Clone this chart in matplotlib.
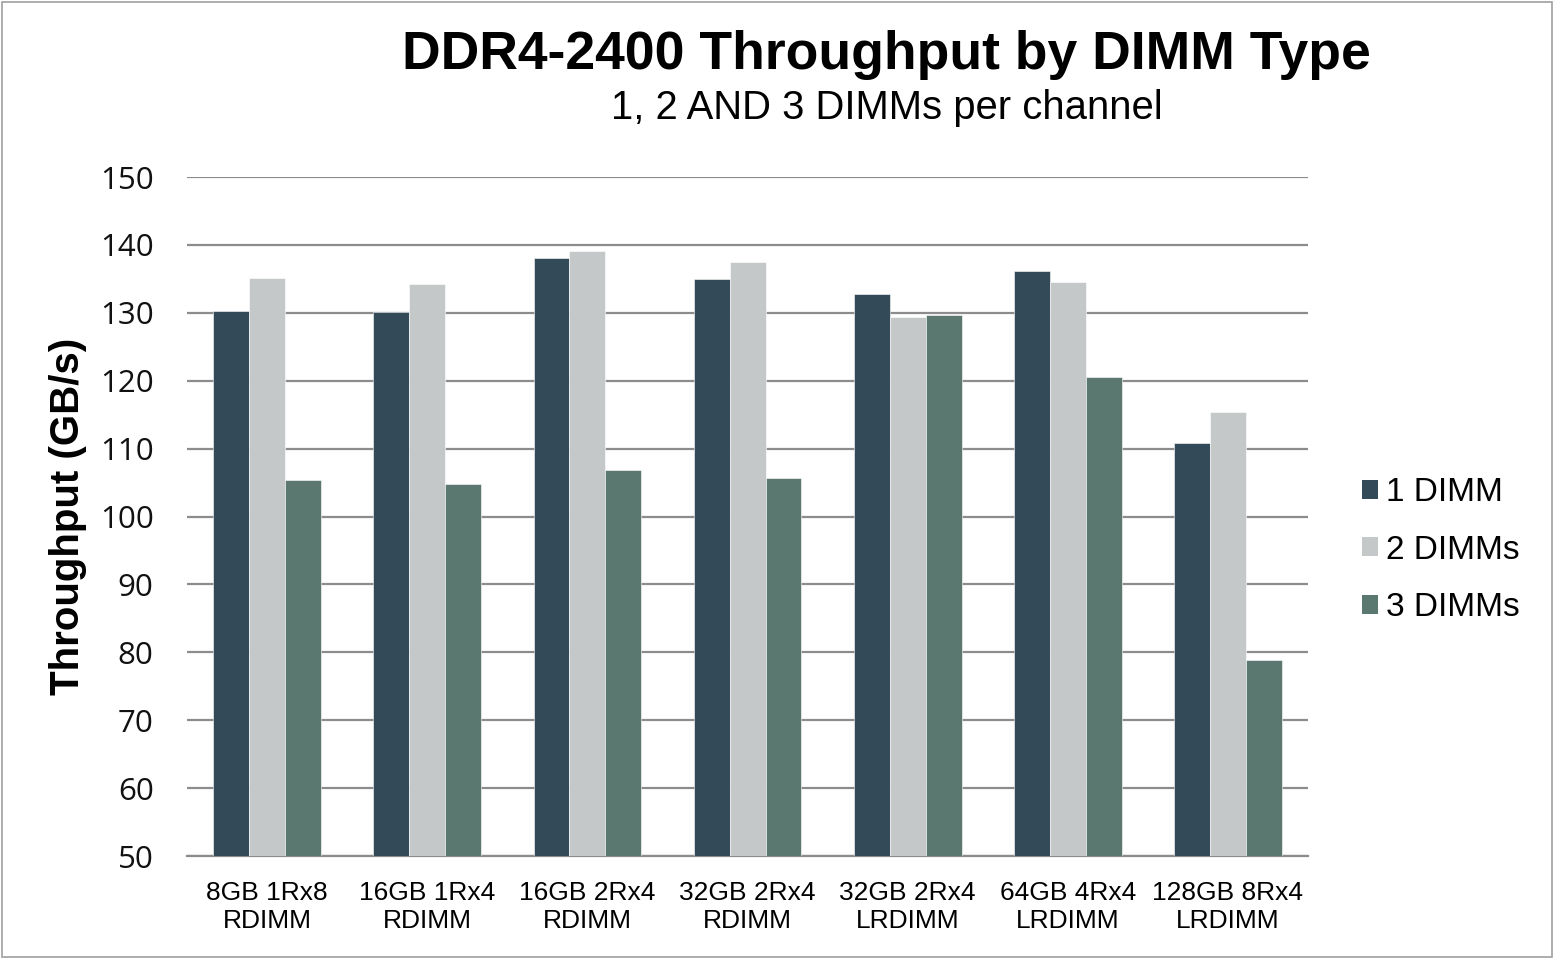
import matplotlib
matplotlib.use('Agg')
import matplotlib.pyplot as plt
from matplotlib.patches import Patch, Rectangle
import numpy as np

# 数据
categories = ['8GB 1Rx8\nRDIMM', '16GB 1Rx4\nRDIMM', '16GB 2Rx4\nRDIMM', '32GB 2Rx4\nRDIMM',
              '32GB 2Rx4\nLRDIMM', '64GB 4Rx4\nLRDIMM', '128GB 8Rx4\nLRDIMM']
series_names = ['1 DIMM', '2 DIMMs', '3 DIMMs']
one_dimm = [130.3, 130.1, 138.1, 135.0, 132.8, 136.2, 110.8]
two_dimms = [135.1, 134.2, 139.1, 137.5, 129.4, 134.5, 115.4]
three_dimms = [105.4, 104.8, 106.8, 105.7, 129.7, 120.5, 78.9]
yticks = [50, 60, 70, 80, 90, 100, 110, 120, 130, 140, 150]

colors = ['#334a59', '#c4c8c9', '#5a7870']
grid_color = '#8c8c8c'

fig = plt.figure(figsize=(15.55, 9.6), dpi=100)
ax = fig.add_axes([0.1203, 0.1083, 0.7209, 0.7073])

x = np.arange(len(categories))
w = 0.224
for i, vals in enumerate([one_dimm, two_dimms, three_dimms]):
    ax.bar(x + (i - 1) * w, np.array(vals) - 50, w, bottom=50, color=colors[i],
           edgecolor='white', linewidth=0.4, zorder=3)

ax.set_xlim(-0.5, len(categories) - 0.5)
ax.set_ylim(50, 150)
ax.set_yticks(yticks)
ax.set_yticklabels([str(v) for v in yticks], fontsize=22.5, family='Open Sans', color='#111111')
ax.set_xticks(x)
ax.set_xticklabels(categories, fontsize=19, family='Liberation Sans', linespacing=1.2)
ax.tick_params(axis='both', length=0)
ax.tick_params(axis='y', pad=24)
ax.tick_params(axis='x', pad=18)
ax.grid(axis='y', color=grid_color, linewidth=1.6, zorder=0)
for s in ['top', 'left', 'right']:
    ax.spines[s].set_visible(False)
ax.spines['bottom'].set_color(grid_color)
ax.spines['bottom'].set_linewidth(1.6)

ax.set_ylabel('Throughput (GB/s)', fontsize=29, fontweight='bold', family='Liberation Sans', labelpad=9)

# 标题
fig.text(0.57, 0.943, 'DDR4-2400 Throughput by DIMM Type', ha='center', va='center',
         fontsize=38.5, fontweight='bold', family='Liberation Sans')
fig.text(0.57, 0.888, '1, 2 AND 3 DIMMs per channel', ha='center', va='center',
         fontsize=28.8, family='Liberation Sans')

# 图例
handles = [Patch(facecolor=c, edgecolor='none') for c in colors]
fig.legend(handles, series_names, loc='center left', bbox_to_anchor=(0.867, 0.427),
           frameon=False, prop={'family': 'Liberation Sans', 'size': 24},
           handlelength=0.5, handleheight=0.5, handletextpad=0.22, labelspacing=0.80,
           borderaxespad=0)

# 外框
fig.patches.append(Rectangle((0.001, 0.003), 0.997, 0.995, transform=fig.transFigure,
                             fill=False, edgecolor='#a0a0a0', linewidth=1.2))

fig.savefig('out.png', dpi=100, facecolor='white')
